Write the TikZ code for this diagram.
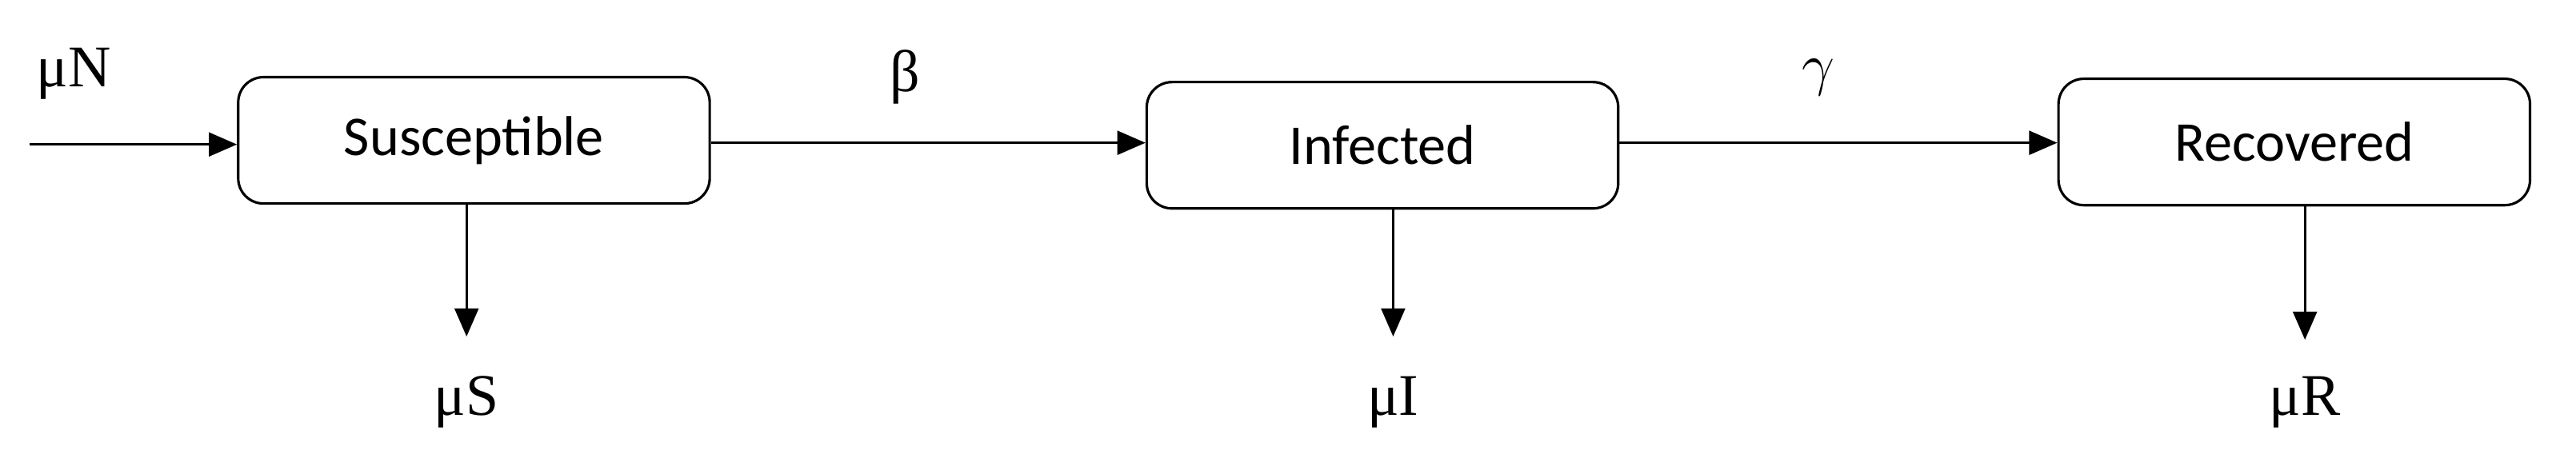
\documentclass[tikz,border=0pt]{standalone}
\usepackage{fontspec}
\setmainfont{Liberation Serif}
\newfontfamily\boxfont{Carlito}
\usetikzlibrary{arrows.meta}
\begin{document}
\begin{tikzpicture}[x=0.020536cm,y=-0.020536cm,
  comp/.style={draw,line width=0.9pt,rounded corners=9pt,minimum width=287*0.020536cm,minimum height=77*0.020536cm,font=\boxfont\fontsize{20}{24}\selectfont},
  lab/.style={font=\fontsize{21}{24}\selectfont},
  flow/.style={line width=0.8pt,-{Triangle[length=10pt,width=8.5pt]}}]
\useasboundingbox (0,0) rectangle (1568,286);
\node[comp] (S) at (288.5,85.5) {Susceptible};
\node[comp] (I) at (841.5,88.5) {Infected};
\node[comp] (R) at (1396.5,86.5) {Recovered};
\coordinate (in) at (18,88);
\draw[flow] (in) -- (S.west|-in);
\draw[flow] (S.east|-0,87) -- (I.west|-0,87);
\draw[flow] (I.east|-0,87) -- (R.west|-0,87);
\node[lab] (muN) at (45,45) {μN};
\node[lab] (beta) at (551,47) {β};
\node[lab] (gamma) at (1107,47) {$\gamma$};
\coordinate (s1) at (284,205);
\coordinate (i1) at (848,205);
\coordinate (r1) at (1403,207);
\draw[flow] (S.south-|s1) -- (s1);
\draw[flow] (I.south-|i1) -- (i1);
\draw[flow] (R.south-|r1) -- (r1);
\node[lab] (muS) at (284,245) {μS};
\node[lab] (muI) at (848,245) {μI};
\node[lab] (muR) at (1403,245) {μR};
\end{tikzpicture}
\end{document}
